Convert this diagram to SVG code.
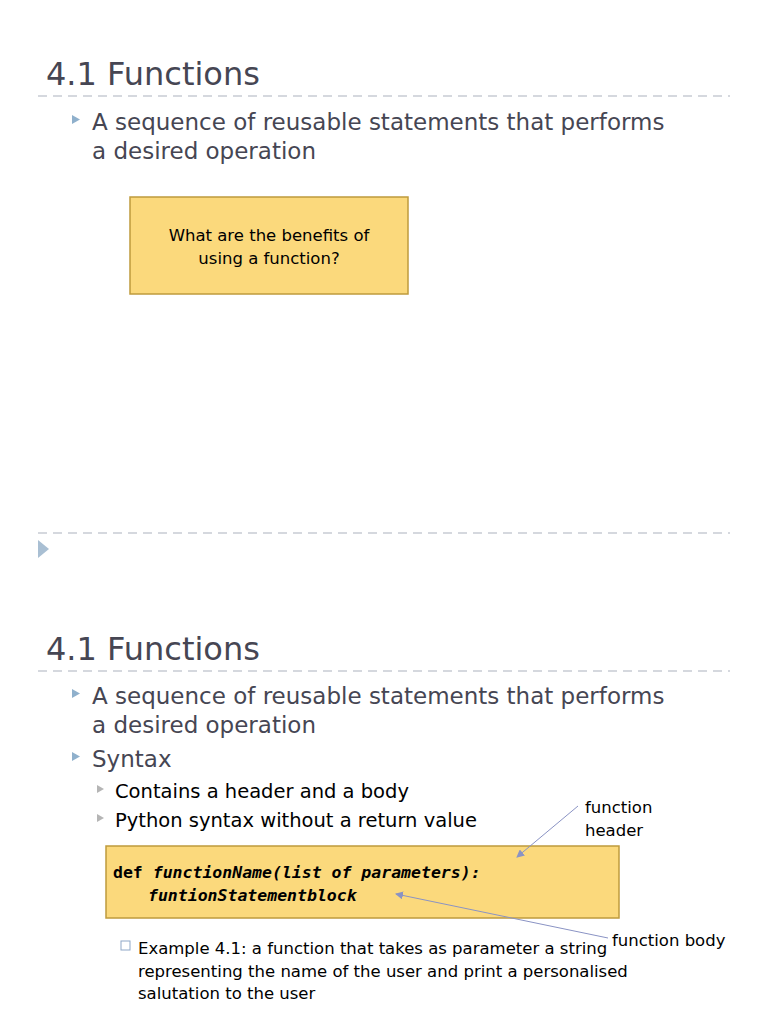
<svg xmlns="http://www.w3.org/2000/svg" width="768" height="1024" viewBox="0 0 768 1024">
<defs>
<style>
.t{font-family:"DejaVu Sans",sans-serif;fill:#464653}
.title{font-size:32px}
.b1{font-size:23px}
.b2{font-size:19.5px;fill:#000}
.sm{font-size:16.5px;fill:#000}
.code{font-family:"DejaVu Sans Mono",monospace;font-size:16.5px;font-weight:bold;fill:#000}
.dash{stroke:#d5d8de;stroke-width:2;stroke-dasharray:9,6}
.box{fill:#fbd97c;stroke:#bf9b3c;stroke-width:1.5}
.con{stroke:#8a93c4;stroke-width:1;fill:none;marker-end:url(#ah)}
</style>
<marker id="ah" markerWidth="8" markerHeight="8" refX="7" refY="4" orient="auto" markerUnits="userSpaceOnUse"><path d="M0,0 L8,4 L0,8 Z" fill="#8a93c4"/></marker>
</defs>
<rect width="768" height="1024" fill="#fff"/>
<text class="t title" x="46" y="85">4.1 Functions</text>
<line class="dash" x1="38" y1="96" x2="730" y2="96"/>
<path d="M72,115 L80,119.5 L72,124 Z" fill="#8fb0cc"/>
<text class="t b1" x="92" y="130">A sequence of reusable statements that performs</text>
<text class="t b1" x="92" y="159">a desired operation</text>
<g id="q">
<rect class="box" x="130" y="197" width="278" height="97"/>
<text class="t sm" x="269" y="241" text-anchor="middle">What are the benefits of</text>
<text class="t sm" x="269" y="264" text-anchor="middle">using a function?</text>
</g>
<line class="dash" x1="38" y1="533" x2="730" y2="533"/>
<path d="M38,540 L49,549 L38,558 Z" fill="#a9bfd3"/>
<text class="t title" x="46" y="660">4.1 Functions</text>
<line class="dash" x1="38" y1="671" x2="730" y2="671"/>
<path d="M72,689 L80,693.5 L72,698 Z" fill="#8fb0cc"/>
<text class="t b1" x="92" y="704">A sequence of reusable statements that performs</text>
<text class="t b1" x="92" y="733">a desired operation</text>
<path d="M72,752 L80,756.5 L72,761 Z" fill="#8fb0cc"/>
<text class="t b1" x="92" y="767">Syntax</text>
<path d="M97,785 L104,789 L97,793 Z" fill="#b5b5b5"/>
<text class="t b2" x="115" y="798">Contains a header and a body</text>
<path d="M97,814 L104,818 L97,822 Z" fill="#b5b5b5"/>
<text class="t b2" x="115" y="827">Python syntax without a return value</text>
<g id="code">
<rect class="box" x="106" y="846" width="513" height="72"/>
<text class="code" x="113" y="878">def <tspan font-style="italic">functionName(list of parameters):</tspan></text>
<text class="code" x="148" y="901" font-style="italic">funtionStatementblock</text>
</g>
<g id="lh"><text class="t sm" x="585" y="813">function</text><text class="t sm" x="585" y="836">header</text></g>
<g id="lb"><text class="t sm" x="612" y="946">function body</text></g>
<g id="connectors">
<path class="con" d="M578,806 L517,857"/>
<path class="con" d="M608,938 L396,894"/>
</g>
<rect x="121" y="941" width="9" height="9" fill="none" stroke="#8fa8c8" stroke-width="1"/>
<text class="t sm" x="138" y="954">Example 4.1: a function that takes as parameter a string</text>
<text class="t sm" x="138" y="977">representing the name of the user and print  a personalised</text>
<text class="t sm" x="138" y="999">salutation to the user</text>
</svg>
